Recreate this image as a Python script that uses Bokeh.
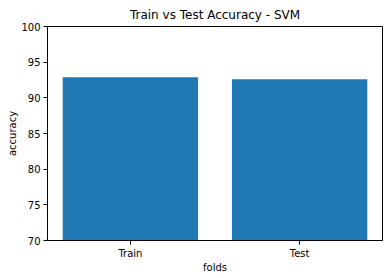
from bokeh.plotting import figure
from bokeh.models import FixedTicker, Range1d
from bokeh.embed import file_html
from bokeh.resources import INLINE

categories = ["Train", "Test"]
accuracy = [92.9, 92.6]
y_ticks = [70, 75, 80, 85, 90, 95, 100]

xs = list(range(len(categories)))
FONT = "DejaVu Sans"

p = figure(width=389, height=278, output_backend="svg", toolbar_location=None,
           x_range=Range1d(-0.49, 1.49), y_range=Range1d(70, 100),
           min_border_left=47, min_border_right=7, min_border_top=23, min_border_bottom=38,
           title="Train vs Test Accuracy - SVM")
p.vbar(x=xs, top=accuracy, bottom=70, width=0.8, color="#1f77b4", line_color=None)

p.title.text_font = FONT
p.title.text_font_size = "12px"
p.title.text_font_style = "normal"
p.title.align = "center"
p.title.text_color = "black"

p.xgrid.visible = False
p.ygrid.visible = False
p.outline_line_color = "black"
p.outline_line_alpha = 1
p.outline_line_width = 1

p.xaxis.ticker = FixedTicker(ticks=xs)
p.xaxis.major_label_overrides = {i: c for i, c in enumerate(categories)}
p.yaxis.ticker = FixedTicker(ticks=y_ticks)
p.xaxis.axis_label = "folds"
p.yaxis.axis_label = "accuracy"

for ax in (p.xaxis[0], p.yaxis[0]):
    ax.minor_tick_line_color = None
    ax.major_tick_in = 0
    ax.major_tick_out = 4
    ax.major_label_standoff = 3
    ax.axis_line_color = "black"
    ax.major_tick_line_color = "black"
    ax.major_label_text_font = FONT
    ax.major_label_text_font_size = "10px"
    ax.major_label_text_color = "black"
    ax.axis_label_text_font = FONT
    ax.axis_label_text_font_size = "10px"
    ax.axis_label_text_font_style = "normal"
    ax.axis_label_text_color = "black"
    ax.axis_label_standoff = 0

open("out.html", "w").write(file_html(p, INLINE))
